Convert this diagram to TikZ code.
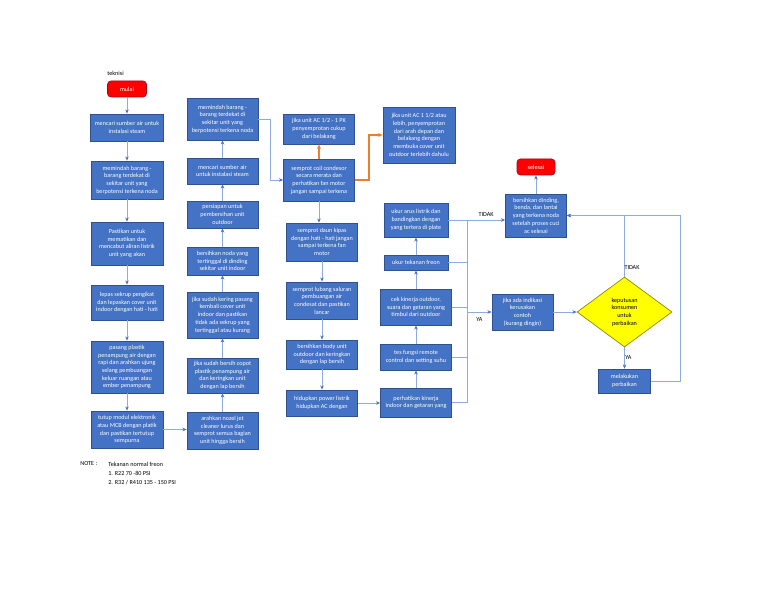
\documentclass[tikz,border=0pt]{standalone}
\usepackage{fontspec}
\setmainfont{Carlito}
\usetikzlibrary{positioning,arrows.meta,shapes.geometric}

\definecolor{boxblue}{HTML}{4472C4}
\definecolor{edgeblue}{HTML}{2F528F}
\definecolor{linkblue}{HTML}{8FAADC}
\definecolor{tipblue}{HTML}{4472C4}
\definecolor{startred}{HTML}{FF0000}
\definecolor{startedge}{HTML}{A50021}
\definecolor{askyellow}{HTML}{FFFF00}
\definecolor{askedge}{HTML}{8C8C00}
\definecolor{sprayorange}{HTML}{ED7D31}

\newcommand{\tinyfont}{\fontsize{3.5}{4.4}\selectfont}

\begin{document}
\begin{tikzpicture}[x=0.02cm, y=-0.02cm,
    blk/.style 2 args={draw=edgeblue, fill=boxblue, text=white, line width=0.4pt,
        minimum width=#1*0.02cm, minimum height=#2*0.02cm, inner sep=0.5pt,
        align=center, font=\tinyfont},
    endblk/.style 2 args={blk={#1}{#2}, draw=startedge, fill=startred, rounded corners=2pt},
    askblk/.style={diamond, draw=askedge, fill=askyellow, line width=0.4pt,
        minimum width=95*0.02cm, minimum height=70*0.02cm, inner sep=0pt,
        align=center, font=\tinyfont},
    link/.style={draw=linkblue, line width=0.5pt, -{Stealth[length=2.4pt,width=2pt,color=tipblue]}},
    plain/.style={draw=linkblue, line width=0.5pt},
    spray/.style={draw=sprayorange, line width=0.9pt, -{Stealth[length=2.6pt,width=2.2pt]}},
    lbl/.style={font=\tinyfont, inner sep=0pt}]

    % page frame
    \useasboundingbox (0,0) rectangle (768,594);

    % Column 1: preparing the indoor unit
    \node[lbl, anchor=west] (title) at (107,73) {teknisi};
    \node[endblk={39}{16}] (start) at (127,89) {mulai};
    \node[blk={73}{27}] (b1) at (127,127.5) {mencari sumber air untuk\\instalasi steam};
    \node[blk={72}{38}] (b2) at (127,180) {memindah barang -\\barang terdekat di\\sekitar unit yang\\berpotensi terkena noda};
    \node[blk={72}{43}] (b3) at (127,243.5) {Pastikan untuk\\mematikan dan\\mencabut aliran listrik\\unit yang akan};
    \node[blk={72}{35}] (b4) at (127,302.5) {lepas sekrup pengikat\\dan lepaskan cover unit\\indoor dengan hati - hati};
    \node[blk={72}{52}] (b5) at (127,367) {pasang plastik\\penampung air dengan\\rapi dan arahkan ujung\\selang pembuangan\\keluar ruangan atau\\ember penampung};
    \node[blk={72}{37}] (b6) at (127,429.5) {tutup modul elektronik\\atau MCB dengan platik\\dan pastikan tertutup\\sempurna};

    \draw[link] (start) -- (b1);
    \draw[link] (b1) -- (b2);
    \draw[link] (b2) -- (b3);
    \draw[link] (b3) -- (b4);
    \draw[link] (b4) -- (b5);
    \draw[link] (b5) -- (b6);

    % Column 2: cleaning indoor, going upwards
    \node[blk={71}{42}] (c1) at (222.5,119) {memindah barang -\\barang terdekat di\\sekitar unit yang\\berpotensi terkena noda};
    \node[blk={71}{26}] (c2) at (222.5,171) {mencari sumber air\\untuk instalasi steam};
    \node[blk={71}{27}] (c3) at (222.5,214.5) {persiapan untuk\\pembersihan unit\\outdoor};
    \node[blk={71}{28}] (c4) at (222.5,261) {bersihkan noda yang\\tertinggal di dinding\\sekitar unit indoor};
    \node[blk={71}{46}] (c5) at (222.5,315) {jika sudah kering pasang\\kembali cover unit\\indoor dan pastikan\\tidak ada sekrup yang\\tertinggal atau kurang};
    \node[blk={71}{35}] (c6) at (222.5,375.5) {jika sudah bersih copot\\plastik penampung air\\dan keringkan unit\\dengan lap bersih};
    \node[blk={71}{37}] (c7) at (222.5,430.5) {arahkan nozel jet\\cleaner lurus dan\\semprot semua bagian\\unit hingga bersih};

    \draw[link] (b6.east) -- (b6.east -| c7.west);
    \draw[link] (c7) -- (c6);
    \draw[link] (c6) -- (c5);
    \draw[link] (c5) -- (c4);
    \draw[link] (c4) -- (c3);
    \draw[link] (c3) -- (c2);
    \draw[link] (c2) -- (c1);

    % Column 3: outdoor unit
    \node[blk={71}{30}] (d1) at (319,129) {jika unit AC 1/2 - 1 PK\\penyemprotan cukup\\dari belakang};
    \node[blk={71}{42}] (d2) at (319,180) {semprot coil condesor\\secara merata dan\\perhatikan fan motor\\jangan sampai terkena};
    \node[blk={71}{38}] (d3) at (322,242) {semprot daun kipas\\dengan hati - hati jangan\\sampai terkena fan\\motor};
    \node[blk={71}{37}] (d4) at (322,300.5) {semprot lubang saluran\\pembuangan air\\condesat dan pastikan\\lancar};
    \node[blk={71}{29}] (d5) at (322,354.5) {bersihkan body unit\\outdoor dan keringkan\\dengan lap bersih};
    \node[blk={71}{26}] (d6) at (322,403) {hidupkan power listrik\\hidupkan AC dengan};

    \draw[link] (c1.east) -- ++(12,0) |- (d2.west);
    \draw[link] (d2.south) -- (d2.south |- d3.north);
    \draw[link] (d3) -- (d4);
    \draw[link] (d4) -- (d5);
    \draw[link] (d5) -- (d6);

    % Column 4: big units and testing
    \node[blk={72}{56}] (e1) at (419,135) {jika unit AC 1 1/2 atau\\lebih, penyemprotan\\dari arah depan dan\\belakang dengan\\membuka cover unit\\outdoor terlebih dahulu};
    \node[blk={64}{34}] (e2) at (416,220) {ukur arus listrik dan\\bandingkan dengan\\yang tertera di plate};
    \node[blk={64}{15}] (e3) at (416,262.5) {ukur tekanan freon};
    \node[blk={71}{36}] (e4) at (416,307) {cek kinerja outdoor,\\suara dan getaran yang\\timbul dari outdoor};
    \node[blk={71}{26}] (e5) at (416,357) {tes fungsi remote\\control dan setting suhu};
    \node[blk={71}{29}] (e6) at (416,402.5) {perhatikan kinerja\\indoor dan getaran yang};

    \draw[spray] (d2) -- (d1);
    \draw[spray] (d2.east) -- ++(14,0) |- (e1.west);
    \draw[link] (d6.east) -- (d6.east -| e6.west);
    \draw[link] (e6) -- (e5);
    \draw[link] (e5) -- (e4);
    \draw[link] (e4) -- (e3);
    \draw[link] (e3) -- (e2);

    % Collecting line on the right of column 4
    \coordinate (jtop) at (467,220);
    \coordinate (jya) at (467,312);
    \draw[plain] (e2.east) -- (jtop);
    \draw[plain] (e6.east) -| (jtop);
    \draw[plain] (e3.east) -- (e3.east -| jtop);
    \draw[plain] (e4.east) -- (e4.east -| jtop);
    \draw[plain] (e5.east) -- (e5.east -| jtop);

    % Finishing and repair decision
    \node[blk={61}{43}] (g) at (536,215.5) {bersihkan dinding,\\benda, dan lantai\\yang terkena noda\\setelah proses cuci\\ac selesai};
    \node[endblk={38}{16}] (stop) at (536,167) {selesai};
    \node[blk={61}{36}] (f1) at (522.5,312) {jika ada indikasi\\kerusakan\\contoh\\(kurang dingin)};
    \node[askblk] (ask) at (624.5,312) {keputusan\\konsumen\\untuk\\perbaikan};
    \node[blk={52}{24}] (fix) at (624.5,381) {melakukan\\perbaikan};
    \coordinate (rc) at (680,215.5);

    \draw[link] (jtop) -- (jtop -| g.west) node[lbl, midway, above=2pt] {TIDAK};
    \draw[link] (jya) -- (jya -| f1.west) node[lbl, midway, below=3pt] {YA};
    \draw[link] (g) -- (stop);
    \draw[link] (f1) -- (ask);
    \draw[link] (ask.north) |- (g.east);
    \draw[link] (ask) -- (fix);
    \draw[link] (fix.east) -| (rc) -- (g.east);
    \node[lbl] (no) at (632,268) {TIDAK};
    \node[lbl] (yes) at (628.5,358) {YA};

    % Note on freon pressure
    \node[lbl, anchor=west] (note) at (80,464) {NOTE :};
    \node[lbl, anchor=west] (note1) at (108,464) {Tekanan normal freon};
    \node[lbl, anchor=west] (note2) at (108,473) {1. R22 70 -80 PSI};
    \node[lbl, anchor=west] (note3) at (108,482) {2. R32 / R410 135 - 150 PSI};
\end{tikzpicture}
\end{document}
